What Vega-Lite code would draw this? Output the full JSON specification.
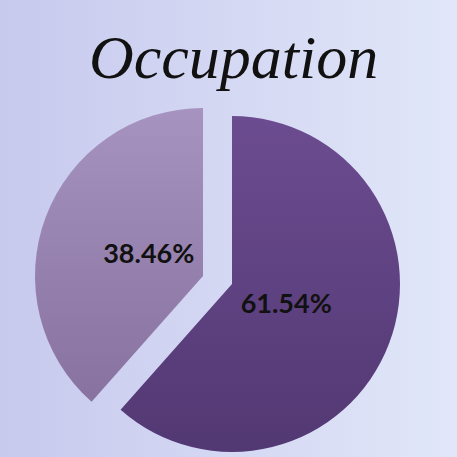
{
  "$schema": "https://vega.github.io/schema/vega-lite/v6.json",
  "width": 457,
  "height": 457,
  "autosize": {"type": "none"},
  "padding": 0,
  "background": "#d6dbf4",
  "title": {
    "text": "Occupation",
    "font": "Liberation Serif",
    "fontStyle": "italic",
    "fontWeight": "normal",
    "fontSize": 62,
    "color": "#111111",
    "anchor": "middle",
    "baseline": "alphabetic",
    "offset": 0,
    "dx": 5,
    "dy": 140
  },
  "data": {
    "values": [
      {"group": "Employed", "share": 0.6154},
      {"group": "Unemployed", "share": 0.3846}
    ]
  },
  "layer": [
    {
      "mark": {
        "type": "rect",
        "fill": {
          "gradient": "linear",
          "x1": 0, "y1": 0, "x2": 1, "y2": 0,
          "stops": [
            {"offset": 0, "color": "#c7c9ed"},
            {"offset": 1, "color": "#e1e7f9"}
          ]
        }
      },
      "encoding": {}
    },
    {
      "mark": {
        "type": "arc",
        "outerRadius": 168,
        "xOffset": 3.5,
        "yOffset": 55.5,
        "fill": {
          "gradient": "linear",
          "x1": 0, "y1": 0, "x2": 0, "y2": 1,
          "stops": [
            {"offset": 0, "color": "#6c4c90"},
            {"offset": 1, "color": "#523873"}
          ]
        }
      },
      "encoding": {
        "theta": {"field": "share", "type": "quantitative", "stack": true},
        "order": {"field": "share", "type": "quantitative", "sort": "descending"},
        "opacity": {"condition": {"test": "datum.group === 'Employed'", "value": 1}, "value": 0}
      }
    },
    {
      "mark": {
        "type": "arc",
        "outerRadius": 168,
        "xOffset": -25.5,
        "yOffset": 47.5,
        "fill": {
          "gradient": "linear",
          "x1": 0, "y1": 0, "x2": 0, "y2": 1,
          "stops": [
            {"offset": 0, "color": "#a693c0"},
            {"offset": 1, "color": "#88729f"}
          ]
        }
      },
      "encoding": {
        "theta": {"field": "share", "type": "quantitative", "stack": true},
        "order": {"field": "share", "type": "quantitative", "sort": "descending"},
        "opacity": {"condition": {"test": "datum.group === 'Unemployed'", "value": 1}, "value": 0}
      }
    },
    {
      "mark": {
        "type": "text",
        "radius": 58,
        "xOffset": 3.5,
        "yOffset": 55.5,
        "font": "Lato",
        "fontWeight": "bold",
        "fontSize": 27,
        "color": "#111111"
      },
      "encoding": {
        "theta": {"field": "share", "type": "quantitative", "stack": true},
        "order": {"field": "share", "type": "quantitative", "sort": "descending"},
        "text": {"field": "share", "type": "quantitative", "format": ".2%"},
        "opacity": {"condition": {"test": "datum.group === 'Employed'", "value": 1}, "value": 0}
      }
    },
    {
      "mark": {
        "type": "text",
        "radius": 58,
        "xOffset": -25.5,
        "yOffset": 47.5,
        "font": "Lato",
        "fontWeight": "bold",
        "fontSize": 27,
        "color": "#111111"
      },
      "encoding": {
        "theta": {"field": "share", "type": "quantitative", "stack": true},
        "order": {"field": "share", "type": "quantitative", "sort": "descending"},
        "text": {"field": "share", "type": "quantitative", "format": ".2%"},
        "opacity": {"condition": {"test": "datum.group === 'Unemployed'", "value": 1}, "value": 0}
      }
    }
  ],
  "config": {
    "view": {"stroke": null}
  }
}
